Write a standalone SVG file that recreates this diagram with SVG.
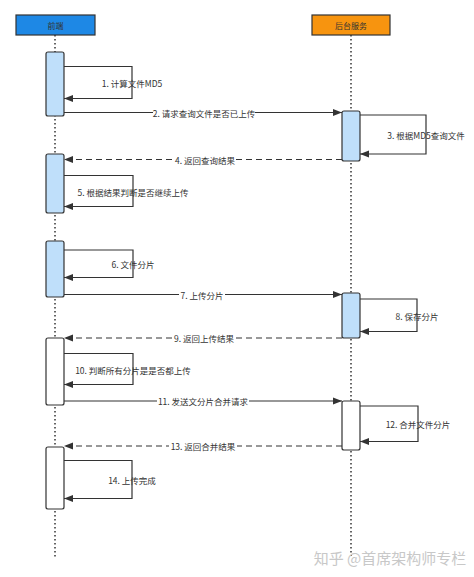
<svg xmlns="http://www.w3.org/2000/svg" width="474" height="577" viewBox="0 0 474 577">
<style>
.hdr{stroke:#333;stroke-width:1.2}
.lbl{font-family:"Noto Sans CJK SC","DejaVu Sans",sans-serif;font-size:8.5px;fill:#333;text-anchor:middle;dominant-baseline:central}
.htxt{font-family:"Noto Sans CJK SC","DejaVu Sans",sans-serif;font-size:8px;fill:#333;text-anchor:middle;dominant-baseline:central}
.life{stroke:#333;stroke-width:1.5;stroke-dasharray:1.5 2.5;fill:none}
.act{fill:#bfdffa;stroke:#333;stroke-width:1.2}
.actw{fill:#fff;stroke:#333;stroke-width:1.2}
.msg{stroke:#333;stroke-width:1.2;fill:none;marker-end:url(#ah)}
.ret{stroke:#333;stroke-width:1.2;fill:none;stroke-dasharray:6 4;marker-end:url(#ah)}
.bg{fill:#fff}
</style>
<defs>
<marker id="ah" viewBox="0 0 10 10" refX="10" refY="5" markerWidth="9" markerHeight="9" markerUnits="userSpaceOnUse" orient="auto">
<path d="M0,1 L10,5 L0,9 Z" fill="#333"/>
</marker>
</defs>
<rect width="474" height="577" fill="#fff"/>
<g id="lifelines">
<line class="life" x1="55" y1="35" x2="55" y2="558"/>
<line class="life" x1="351" y1="35" x2="351" y2="556"/>
</g>
<g id="frontend">
<rect class="hdr" x="16" y="15" width="79" height="20" fill="#1e88e5"/>
<text class="htxt" x="55.5" y="25">前端</text>
</g>
<g id="backend">
<rect class="hdr" x="312" y="15" width="78" height="20" fill="#f7940f"/>
<text class="htxt" x="351" y="25">后台服务</text>
</g>
<g id="activations">
<rect id="fa1" class="act" x="46" y="52" width="18" height="64" rx="2"/>
<rect id="fa2" class="act" x="46" y="154" width="18" height="59" rx="2"/>
<rect id="fa3" class="act" x="46" y="241" width="18" height="56" rx="2"/>
<rect id="fa4" class="actw" x="46" y="338" width="18" height="67" rx="2"/>
<rect id="fa5" class="actw" x="46" y="447" width="18" height="62" rx="2"/>
<rect id="ba1" class="act" x="342" y="111" width="18" height="50" rx="2"/>
<rect id="ba2" class="act" x="342" y="293" width="18" height="45" rx="2"/>
<rect id="ba3" class="actw" x="342" y="401" width="18" height="49" rx="2"/>
</g>
<g id="connectors">
<path class="msg" d="M64,66.5 H132 V98.5 H64"/>
<path class="msg" d="M64,112.5 H342"/>
<path class="msg" d="M360,115 H426 V154 H360"/>
<path class="ret" d="M342,159.5 H64"/>
<path class="msg" d="M64,175.5 H133 V206.5 H64"/>
<path class="msg" d="M64,250 H133 V277.5 H64"/>
<path class="msg" d="M64,294.5 H342"/>
<path class="msg" d="M360,299 H417 V331.5 H360"/>
<path class="ret" d="M342,338 H64"/>
<path class="msg" d="M64,353.5 H133 V384.5 H64"/>
<path class="msg" d="M64,401 H342"/>
<path class="msg" d="M360,406 H418 V441.5 H360"/>
<path class="ret" d="M342,446 H64"/>
<path class="msg" d="M64,460.5 H132 V498.5 H64"/>
</g>
<g id="labels">
<text class="lbl" x="132" y="83">1. 计算文件MD5</text>
<rect class="bg" x="153" y="107" width="102" height="11"/>
<text class="lbl" x="204" y="112.5">2. 请求查询文件是否已上传</text>
<text class="lbl" x="426" y="135">3. 根据MD5查询文件</text>
<rect class="bg" x="175" y="154" width="60" height="11"/>
<text class="lbl" x="205" y="159.5">4. 返回查询结果</text>
<text class="lbl" x="133" y="191.5">5. 根据结果判断是否继续上传</text>
<text class="lbl" x="133" y="264">6. 文件分片</text>
<rect class="bg" x="179" y="289" width="46" height="11"/>
<text class="lbl" x="202" y="294.5">7. 上传分片</text>
<text class="lbl" x="417" y="316">8. 保存分片</text>
<rect class="bg" x="173" y="332.5" width="62" height="11"/>
<text class="lbl" x="204" y="338">9. 返回上传结果</text>
<text class="lbl" x="133" y="369.5">10. 判断所有分片是是否都上传</text>
<rect class="bg" x="157" y="395.5" width="92" height="11"/>
<text class="lbl" x="203" y="401">11. 发送文分片合并请求</text>
<text class="lbl" x="418" y="424">12. 合并文件分片</text>
<rect class="bg" x="169" y="440.5" width="68" height="11"/>
<text class="lbl" x="203" y="446">13. 返回合并结果</text>
<text class="lbl" x="132" y="480">14. 上传完成</text>
</g>
<text x="390" y="557" font-family="Noto Sans CJK SC,sans-serif" font-size="15" fill="#c8c8c8" text-anchor="middle" dominant-baseline="central">知乎 @首席架构师专栏</text>
</svg>
